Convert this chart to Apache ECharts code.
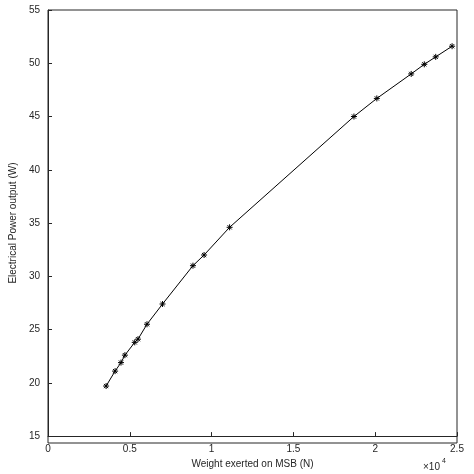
<!DOCTYPE html><html><head><script src="https://cdn.jsdelivr.net/npm/echarts@6/dist/echarts.min.js"></script></head><body style="margin:0"><div id="c" style="width:474px;height:474px"></div><script>
const weight=[0.355,0.41,0.446,0.47,0.53,0.55,0.605,0.70,0.886,0.954,1.11,1.87,2.01,2.22,2.30,2.37,2.47];
const power=[19.7,21.1,21.9,22.6,23.8,24.1,25.5,27.4,31.0,32.0,34.6,45.0,46.7,49.0,49.9,50.6,51.6];
const star='path://M0,-10L0,10M-10,0L10,0M-7,-7L7,7M-7,7L7,-7';
const ch=echarts.init(document.getElementById('c'));
const ax={axisLine:{lineStyle:{color:'#262626'}},axisTick:{inside:true,length:4,lineStyle:{color:'#262626'}},axisLabel:{color:'#262626',fontSize:10,fontFamily:'Liberation Sans'},splitLine:{show:false},nameTextStyle:{color:'#262626',fontSize:10,fontFamily:'Liberation Sans'}};
ch.setOption({animation:false,grid:{left:48,right:17,top:10,bottom:31},
xAxis:Object.assign({type:'value',min:0,max:2.5,interval:0.5,name:'Weight exerted on MSB (N)',nameLocation:'middle',nameGap:17,axisLabel:Object.assign({},ax.axisLabel,{formatter:v=>String(v)})},{axisLine:ax.axisLine,axisTick:ax.axisTick,splitLine:ax.splitLine,nameTextStyle:ax.nameTextStyle}),
yAxis:Object.assign({type:'value',min:15,max:55,interval:5,name:'Electrical Power output (W)',nameLocation:'middle',nameGap:20},ax),
graphic:[{type:'rect',shape:{x:48,y:10,width:409,height:433},style:{fill:'none',stroke:'#262626',lineWidth:1}},
{type:'text',left:423,top:462,style:{text:'×10',fill:'#262626',font:'10px Liberation Sans'}},
{type:'text',left:442,top:458,style:{text:'4',fill:'#262626',font:'7px Liberation Sans'}}],
series:[{type:'line',data:weight.map((w,i)=>[w,power[i]]),symbol:star,symbolSize:6,showAllSymbol:true,lineStyle:{color:'#000',width:1},itemStyle:{color:'#000',borderColor:'#000',borderWidth:1}}]});
</script></body></html>
